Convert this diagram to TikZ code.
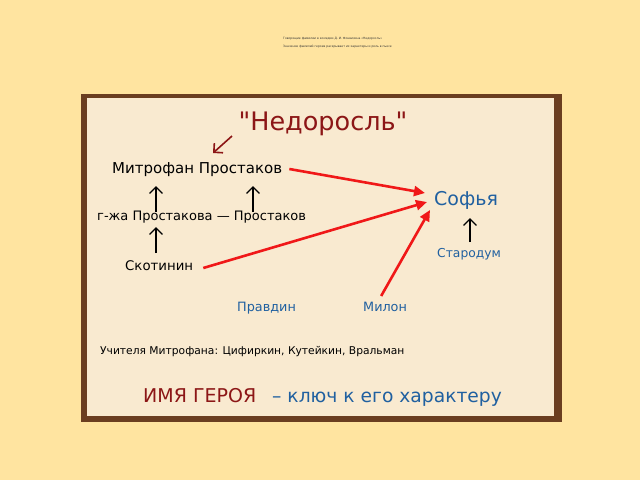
\documentclass[tikz,border=0pt]{standalone}
\usepackage{fontspec}
\setmainfont{DejaVu Sans}
\newfontfamily\plainfont{DejaVu Sans}
\usetikzlibrary{arrows.meta}
\definecolor{bgyellow}{RGB}{255,228,160}
\definecolor{panel}{RGB}{249,234,208}
\definecolor{framebrown}{RGB}{107,62,32}
\definecolor{darkred}{RGB}{140,22,22}
\definecolor{textblue}{RGB}{32,96,160}
\definecolor{arrowred}{RGB}{240,24,24}
\tikzset{
  lbl/.style={inner sep=0pt, anchor=base west},
  blk/.style={lbl, text=black, font=\fontsize{15}{18}\selectfont},
  blu/.style={lbl, text=textblue, font=\fontsize{12.8}{16}\selectfont},
  thinarrow/.style={draw=black, line width=1.3pt, -{Straight Barb[length=6.5pt,width=13pt]}},
  redarrow/.style={draw=arrowred, line width=2.6pt, -{Triangle[length=11pt,width=10pt]}}
}
\begin{document}
\begin{tikzpicture}[x=1pt,y=-1pt]
\fill[bgyellow] (0,0) rectangle (640,480);
\useasboundingbox (0,0) rectangle (640,480);
% tiny header
\node[lbl, text=black!80, font=\fontsize{3}{4}\selectfont] (h1) at (283,39) {Говорящие фамилии в комедии Д. И. Фонвизина «Недоросль»};
\node[lbl, text=black!80, font=\fontsize{3}{4}\selectfont] (h2) at (283,47) {Значение фамилий героев раскрывает их характеры и роль в пьесе};
% frame
\fill[framebrown] (81,94) rectangle (562,422);
\fill[panel] (87,98) rectangle (554,416);
% title
\node[inner sep=0pt, anchor=base, text=darkred, font=\plainfont\fontsize{25.5}{28}\selectfont] (title) at (323,130) {"Недоросль"};
% left column
\node[blk] (mitro) at (112,173) {Митрофан Простаков};
\node[blk, font=\fontsize{13}{16}\selectfont] (prost) at (97,220) {г-жа Простакова — Простаков};
\node[blk, font=\fontsize{13.3}{16}\selectfont] (skot) at (125,270) {Скотинин};
% right column
\node[lbl, text=textblue, font=\fontsize{19}{22}\selectfont] (sofya) at (434,205) {Софья};
\node[blu, font=\fontsize{12.3}{15}\selectfont] (starod) at (437,257) {Стародум};
\node[blu] (pravd) at (237,311) {Правдин};
\node[blu] (milon) at (363,311) {Милон};
% teachers
\node[blk, font=\fontsize{10.7}{13}\selectfont] (teach) at (100,354) {Учителя Митрофана: Цифиркин, Кутейкин, Вральман};
% bottom line
\node[lbl, text=darkred, font=\fontsize{19}{22}\selectfont] (imya) at (143,402) {ИМЯ ГЕРОЯ};
\node[lbl, text=textblue, font=\fontsize{18.7}{22}\selectfont] (klyuch) at (272,402) {– ключ к его характеру};
% thin arrows
\coordinate (dla) at (232,136);
\coordinate (dlb) at (213,153);
\draw[thinarrow, draw=darkred, line width=1.6pt] (dla) -- (dlb);
\coordinate (u1a) at (156,212);
\coordinate (u1b) at (156,186);
\draw[thinarrow] (u1a) -- (u1b);
\coordinate (u2a) at (253,212);
\coordinate (u2b) at (253,186);
\draw[thinarrow] (u2a) -- (u2b);
\coordinate (u3a) at (156,253);
\coordinate (u3b) at (156,227);
\draw[thinarrow] (u3a) -- (u3b);
\coordinate (u4a) at (470,242);
\coordinate (u4b) at (470,218);
\draw[thinarrow] (u4a) -- (u4b);
% red connectors
\coordinate (t1) at (425,193);
\coordinate (t2) at (427,202);
\coordinate (t3) at (430,210);
\draw[redarrow] ([shift={(7,-4)}]mitro.base east) -- (t1);
\draw[redarrow] ([shift={(10,-2)}]skot.base east) -- (t2);
\draw[redarrow] ([shift={(-26,-15)}]milon.base east) -- (t3);
\end{tikzpicture}
\end{document}
